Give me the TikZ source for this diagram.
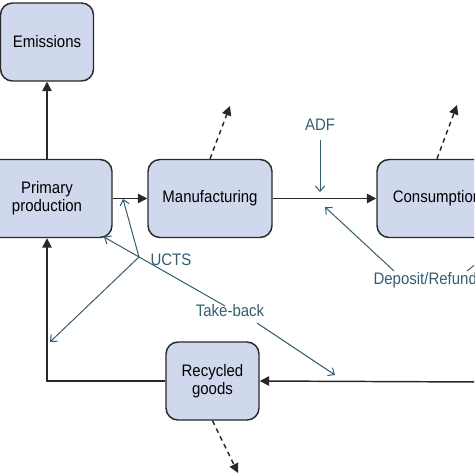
\documentclass[tikz,border=0pt]{standalone}
\usepackage{fontspec}
\setmainfont{Liberation Sans}[FakeStretch=0.9]
\usetikzlibrary{arrows.meta}

\definecolor{boxfill}{RGB}{208,216,238}
\definecolor{boxline}{RGB}{40,40,40}
\definecolor{policyteal}{RGB}{52,94,112}

\tikzset{every picture/.style={line width=0.75pt}}
\tikzset{
	flowbox/.style={draw=boxline, fill=boxfill, rounded corners=9pt, line width=1.1pt, minimum height=58.5pt, align=center, font=\fontsize{12.5}{13.5}\selectfont, inner sep=0.75pt},
	flowarrow/.style={draw=boxline, line width=1.1pt, -{Triangle[length=7pt,width=7pt]}},
	lossarrow/.style={flowarrow, dash pattern={on 3.5pt off 3pt}},
	policytext/.style={text=policyteal, font=\fontsize{12.5}{13.5}\selectfont, inner sep=0.75pt},
	policyarrow/.style={draw=policyteal, line width=0.75pt, -{Straight Barb[length=4pt,width=7pt]}},
	policyline/.style={draw=policyteal, line width=0.75pt},
}

\begin{document}
\begin{tikzpicture}[x=0.75pt,y=0.75pt,yscale=-1,xscale=1]
	\useasboundingbox (0,0) rectangle (474,474);
	\clip (0,0) rectangle (474,474);

	%Rounded Rect
	\node[flowbox, minimum width=69.75pt] (emissions) at (47,42) {Emissions};
	%Rounded Rect
	\node[flowbox, minimum width=97.5pt] (primary) at (47,198.5) {Primary\\production};
	%Rounded Rect
	\node[flowbox, minimum width=93pt] (manufacturing) at (210,198.5) {Manufacturing};
	%Rounded Rect
	\node[flowbox, minimum width=90pt] (consumption) at (437,198.5) {Consumption};
	%Rounded Rect
	\node[flowbox, minimum width=69.75pt] (recycled) at (212.5,381) {Recycled\\goods};

	%Straight Lines
	\draw[flowarrow] (primary) -- (emissions);
	\draw[flowarrow] (primary.east) -- (manufacturing.west);
	\draw[flowarrow] (manufacturing) -- (consumption);
	\coordinate (returnin) at (480,382);
	\draw[flowarrow] (returnin) -- (recycled.east);
	\draw[flowarrow] (recycled.west) -| (primary.south);

	%Dashed Lines
	\coordinate (manuloss) at (230,106);
	\draw[lossarrow] (manufacturing.north) -- (manuloss);
	\coordinate (consloss) at (457,105);
	\draw[lossarrow] (consumption.north) -- (consloss);
	\coordinate (recyloss) at (238,473);
	\draw[lossarrow] (recycled.south) -- (recyloss);

	% Text Node
	\node[policytext] (adf) at (320,125) {ADF};
	\coordinate (adftip) at (320,192);
	\draw[policyarrow, shorten <=6pt] (adf) -- (adftip);

	% Text Node
	\node[policytext, anchor=west] (deposit) at (372,280) {Deposit/Refund};
	\coordinate (depositfoot) at (394,271);
	\coordinate (deposittip) at (325,207);
	\draw[policyarrow] (depositfoot) -- (deposittip);
	\coordinate (depositfoottwo) at (467,271);
	\coordinate (depositaway) at (482,259);
	\draw[policyline] (depositfoottwo) -- (depositaway);

	% Text Node
	\node[policytext] (ucts) at (171,260) {UCTS};
	\coordinate (uctsjoin) at (139,257);
	\coordinate (uctsup) at (123,199);
	\coordinate (uctsdown) at (50,342);
	\draw[policyarrow] (uctsjoin) -- (uctsup);
	\draw[policyarrow] (uctsjoin) -- (uctsdown);

	% Text Node
	\node[policytext] (takeback) at (230,311) {Take-back};
	\coordinate (takebacktop) at (225,306);
	\coordinate (primcorner) at (104,237);
	\draw[policyarrow] (takebacktop) -- (primcorner);
	\coordinate (takebackfoot) at (257,323);
	\coordinate (takebacktip) at (335,375);
	\draw[policyarrow] (takebackfoot) -- (takebacktip);

\end{tikzpicture}
\end{document}
